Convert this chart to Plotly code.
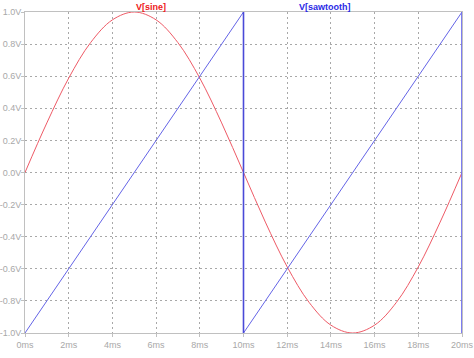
import plotly.graph_objects as go

# time in ms
sine_t = [0, 1, 2, 3, 4, 5, 6, 7, 8, 9, 10, 11, 12, 13, 14, 15, 16, 17, 18, 19, 20]
sine_v = [0.0, 0.309, 0.588, 0.809, 0.951, 1.0, 0.951, 0.809, 0.588, 0.309, 0.0,
          -0.309, -0.588, -0.809, -0.951, -1.0, -0.951, -0.809, -0.588, -0.309, 0.0]

saw_t = [0, 10, 10, 20, 20]
saw_v = [-1.0, 1.0, -1.0, 1.0, -1.0]

x_ticks = [0, 2, 4, 6, 8, 10, 12, 14, 16, 18, 20]
x_labels = [f"{v}ms" for v in x_ticks]
y_ticks = [1.0, 0.8, 0.6, 0.4, 0.2, 0.0, -0.2, -0.4, -0.6, -0.8, -1.0]
y_labels = ["1.0V", "0.8V", "0.6V", "0.4V", "0.2V", "0.0V", "-0.2V", "-0.4V", "-0.6V", "-0.8V", "-1.0V"]

fig = go.Figure()
fig.add_trace(go.Scatter(x=sine_t, y=sine_v, mode="lines", name="V[sine]",
                         line=dict(color="#ee5a66", width=1, shape="spline")))
fig.add_trace(go.Scatter(x=saw_t, y=saw_v, mode="lines", name="V[sawtooth]",
                         line=dict(color="#6464e6", width=1)))
# emphasis on vertical drops
fig.add_trace(go.Scatter(x=[10, 10], y=[-1, 1], mode="lines", showlegend=False,
                         line=dict(color="#4a4ad8", width=1.6)))
fig.add_trace(go.Scatter(x=[20, 20], y=[-1, 1], mode="lines", showlegend=False,
                         line=dict(color="#7070f0", width=1.6)))

fig.add_annotation(text="<b>V[sine]</b>", x=(134 - 25) / 437.5, y=1.0, xref="x domain", yref="y domain",
                   yanchor="bottom", showarrow=False, yshift=-2,
                   font=dict(color="#ee2020", size=9, family="Liberation Sans"))
fig.add_annotation(text="<b>V[sawtooth]</b>", x=(353 - 25) / 437.5, y=1.0, xref="x domain", yref="y domain",
                   yanchor="bottom", showarrow=False, yshift=-2,
                   font=dict(color="#2a2ae6", size=9, family="Liberation Sans"))

fig.update_layout(
    width=474, height=358,
    margin=dict(l=25, r=11.5, t=11.7, b=24.7, autoexpand=False),
    paper_bgcolor="white", plot_bgcolor="white",
    showlegend=False,
    font=dict(family="Liberation Sans", size=9, color="#a8a8a8"),
)
common = dict(showgrid=True, gridcolor="#a8a8a8", griddash="2px,3px", gridwidth=1,
              showline=True, linecolor="#c0c0c0", linewidth=1, mirror=True,
              ticks="outside", ticklen=3, tickcolor="#c0c0c0",
              zeroline=False, fixedrange=True, automargin=False)
fig.update_xaxes(range=[0, 20], tickvals=x_ticks, ticktext=x_labels, **common)
fig.update_yaxes(range=[-1, 1], tickvals=y_ticks, ticktext=y_labels, ticklabelstandoff=-2, **common)

fig.write_html("out.html", config={"displayModeBar": False},
               post_script="document.body.style.margin='0';document.body.style.overflow='hidden';")
